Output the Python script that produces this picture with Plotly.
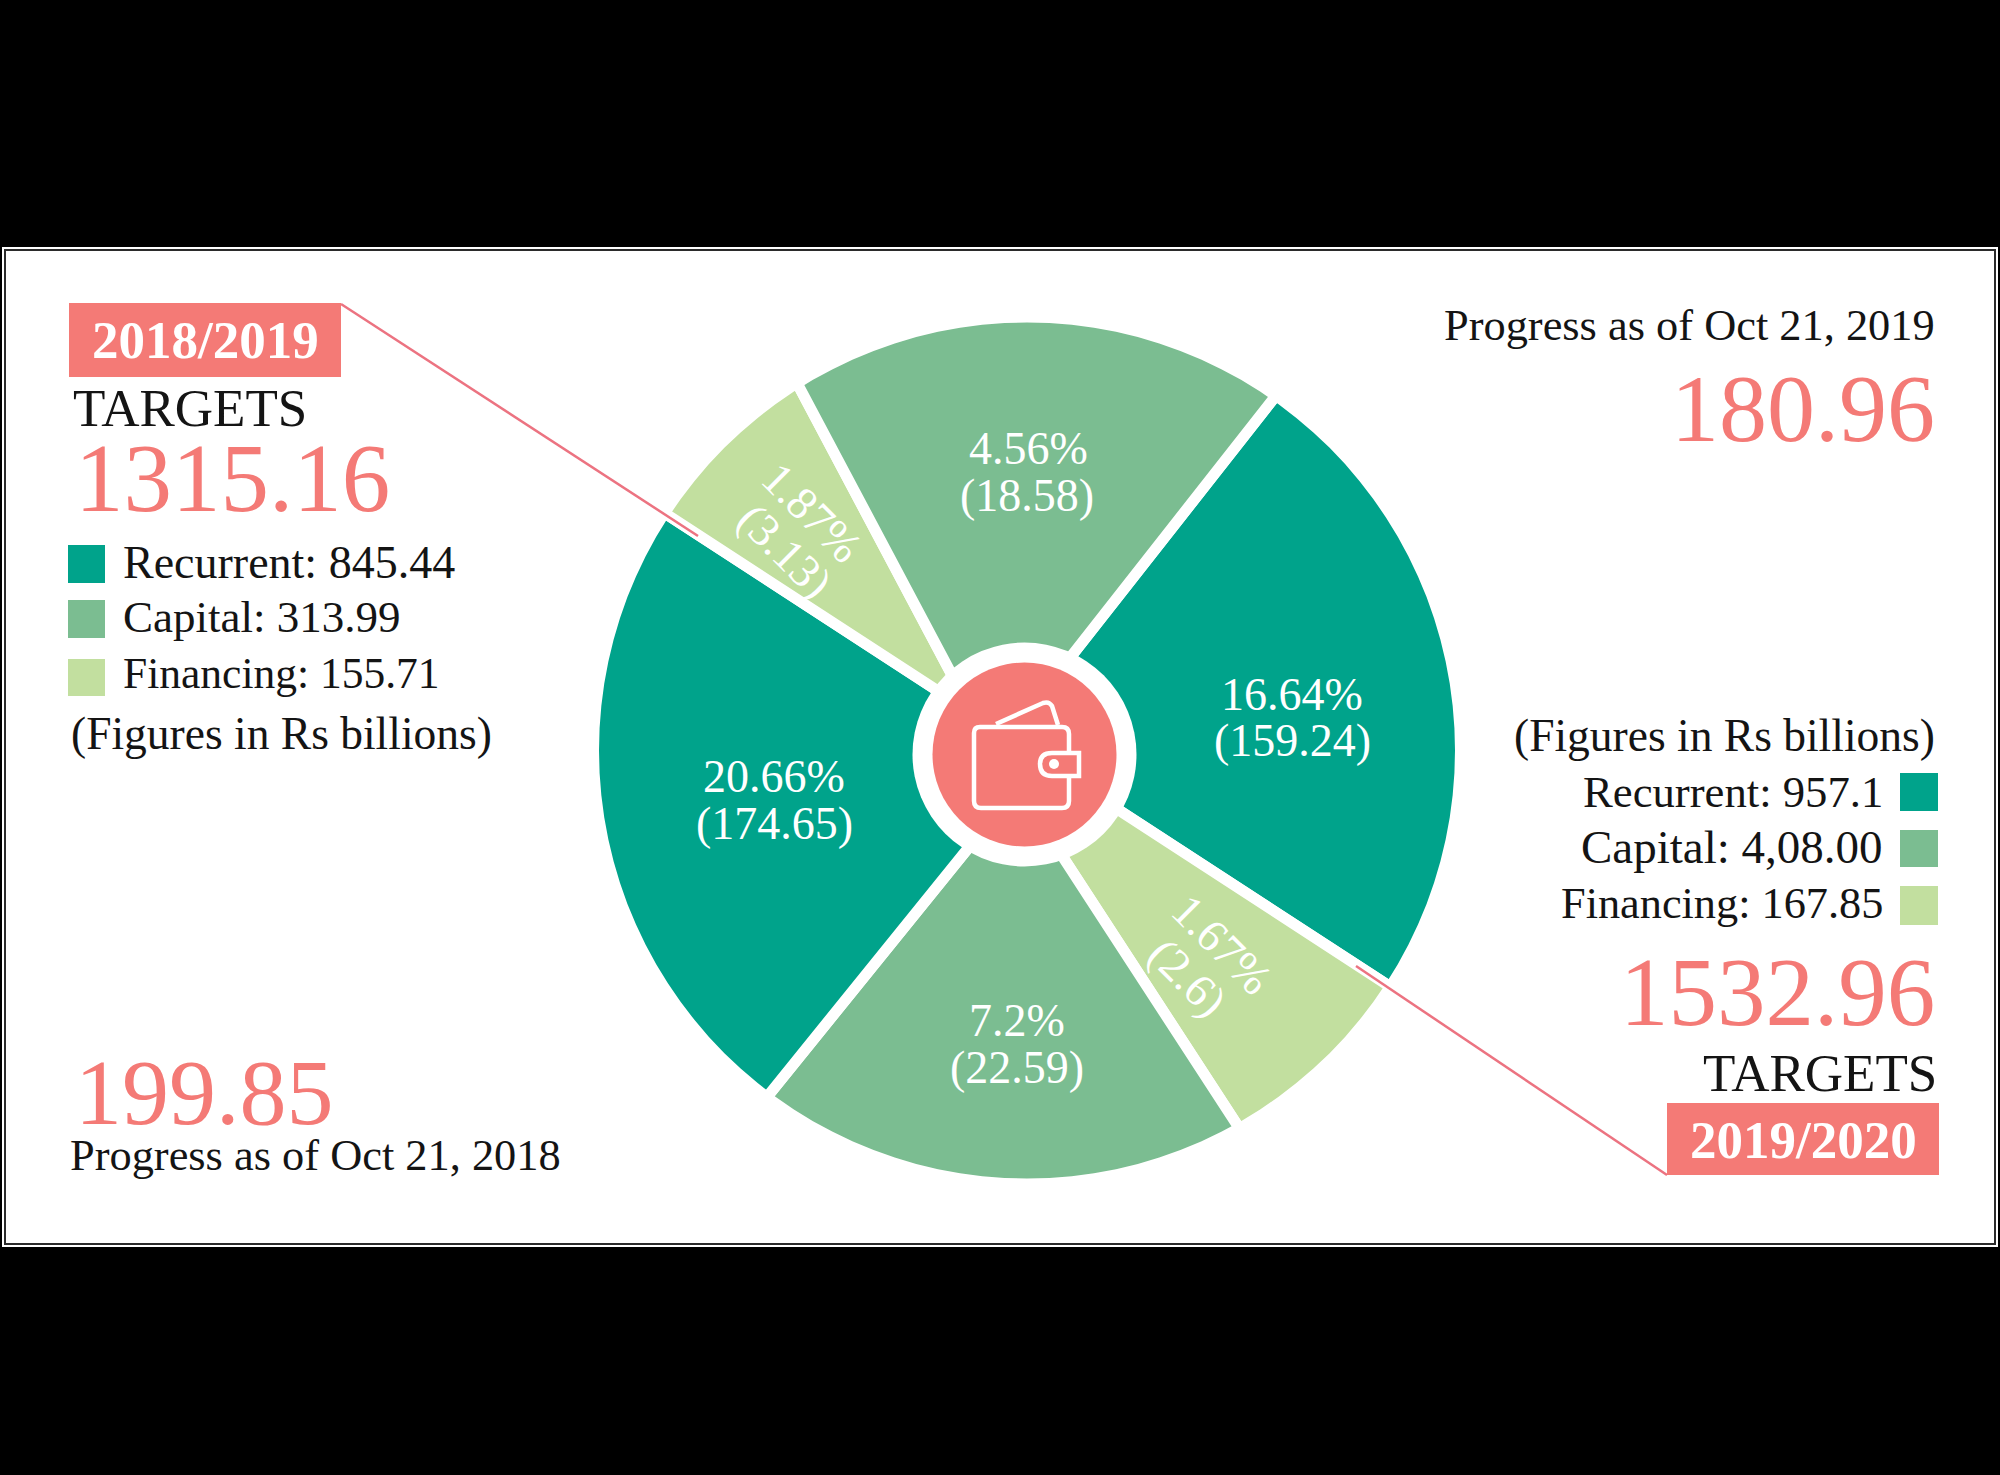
import math

import plotly.graph_objects as go

W, H = 2000, 1475
SERIF = "Liberation Serif"
TEAL = "#00a38b"
MID_GREEN = "#7bbd91"
LIGHT_GREEN = "#c2df9f"
SALMON = "#f47a76"
LEADER = "#ec7381"
INK = "#141414"

# slices clockwise from the upper right; shares are the drawn degrees, not the labels
slice_names = ["Recurrent 2019", "Financing 2019", "Capital 2018", "Recurrent 2018", "Financing 2018", "Capital 2019"]
slice_shares = [84.9, 23.9, 72.0, 84.1, 29.0, 66.1]
slice_pct = ["16.64%", "1.67%", "7.2%", "20.66%", "1.87%", "4.56%"]
slice_amounts = ["(159.24)", "(2.6)", "(22.59)", "(174.65)", "(3.13)", "(18.58)"]
slice_colors = [TEAL, LIGHT_GREEN, MID_GREEN, TEAL, LIGHT_GREEN, MID_GREEN]

legend_2018 = ["Recurrent: 845.44", "Capital: 313.99", "Financing: 155.71"]
legend_2019 = ["Recurrent: 957.1", "Capital: 4,08.00", "Financing: 167.85"]
legend_colors = [TEAL, MID_GREEN, LIGHT_GREEN]

# the wedges in the artwork do not share one apex, so each gets its own pie,
# and a white collar trims them all back to one outer circle
PIE_X, PIE_Y, PIE_R = 1027, 750.5, 428
COLLAR = 60
GAP = 11
FIRST_EDGE = 38.15
edge_points = [(1074, 652.7), (1121.7, 812), (1064.4, 859.4), (966, 850.8), (933.4, 688), (949.7, 670.7)]


def fx(px):
    return px / W


def fy(px):
    return 1 - px / H


def path(*parts):
    # parts are command letters and (x, y) pixel pairs
    out = []
    for p in parts:
        out.append(p if isinstance(p, str) else f"{fx(p[0]):.5f},{fy(p[1]):.5f}")
    return " ".join(out)


def ring_path(r):
    pts = [(PIE_X + r * math.cos(math.radians(a)), PIE_Y + r * math.sin(math.radians(a))) for a in range(0, 360, 3)]
    parts = ["M", pts[0]]
    for p in pts[1:]:
        parts += ["L", p]
    return path(*parts, "Z")


def rect(x0, y0, x1, y1, fill, line=None, width=0, layer="above"):
    return dict(type="rect", xref="paper", yref="paper", x0=fx(x0), x1=fx(x1), y0=fy(y0), y1=fy(y1),
                fillcolor=fill, line=dict(color=line, width=width), layer=layer)


def circle(cx, cy, r, fill):
    return dict(type="circle", xref="paper", yref="paper", x0=fx(cx - r), x1=fx(cx + r), y0=fy(cy - r), y1=fy(cy + r),
                fillcolor=fill, line=dict(width=0), layer="above")


def segment(x0, y0, x1, y1):
    return dict(type="line", xref="paper", yref="paper", x0=fx(x0), x1=fx(x1), y0=fy(y0), y1=fy(y1),
                line=dict(color=LEADER, width=2.5), layer="above")


def stroke(d):
    return dict(type="path", xref="paper", yref="paper", path=d, line=dict(color="white", width=4.5), layer="above")


def label(text, x, y, size, color=INK, anchor="left", angle=0, weight="normal"):
    return dict(text=text, x=fx(x), y=fy(y), xref="paper", yref="paper", xanchor=anchor, yanchor="middle",
                showarrow=False, textangle=angle, borderpad=0,
                font=dict(family=SERIF, size=size, color=color, weight=weight))


def heading(deg):
    return math.sin(math.radians(deg)), -math.cos(math.radians(deg))


def meet(p, a, q, b):
    # where the line through p at heading a crosses the line through q at heading b
    ax, ay = heading(a)
    bx, by = heading(b)
    t = ((q[0] - p[0]) * by - (q[1] - p[1]) * bx) / (ax * by - ay * bx)
    return p[0] + t * ax, p[1] + t * ay


def reach(apex, deg):
    # distance from the apex to the outer circle at this heading
    hx, hy = heading(deg)
    ox, oy = apex[0] - PIE_X, apex[1] - PIE_Y
    along = ox * hx + oy * hy
    return -along + math.sqrt(along ** 2 - (ox ** 2 + oy ** 2) + PIE_R ** 2)


fig = go.Figure()
start = FIRST_EDGE
for i, share in enumerate(slice_shares):
    end = start + share
    apex = meet(edge_points[i], start, edge_points[(i + 1) % len(slice_shares)], end)
    radius = max(reach(apex, start), reach(apex, end), reach(apex, start + share / 2)) + GAP
    fig.add_trace(go.Pie(
        labels=[slice_names[i], ""],
        values=[share, 360 - share],
        sort=False,
        direction="clockwise",
        rotation=start % 360,
        textinfo="none",
        hoverinfo="skip",
        showlegend=False,
        marker=dict(colors=[slice_colors[i], "rgba(0,0,0,0)"], line=dict(color="white", width=[GAP, 0])),
        domain=dict(x=[fx(apex[0] - radius), fx(apex[0] + radius)], y=[fy(apex[1] + radius), fy(apex[1] - radius)]),
    ))
    start = end

shapes = [
    rect(2, 247, 1998, 1247, "white", layer="below"),
    rect(5, 250, 1995, 1244, "white", "#2b2b2b", 2, layer="below"),
    dict(type="path", xref="paper", yref="paper", path=ring_path(PIE_R + COLLAR) + " " + ring_path(PIE_R),
         fillcolor="white", line=dict(width=0), layer="above"),
    segment(341, 304, 698, 536),
    segment(1356, 966, 1667, 1175),
    rect(69, 303, 341, 377, SALMON),
    rect(1667, 1103, 1939, 1175, SALMON),
    circle(1024.5, 754.5, 112, "white"),
    circle(1024.5, 754.5, 92, SALMON),
    # wallet
    stroke(path("M", (980, 727), "L", (1062, 727), "Q", (1069, 727), (1069, 734), "L", (1069, 752),
                "M", (1069, 776), "L", (1069, 801), "Q", (1069, 808), (1062, 808), "L", (981, 808),
                "Q", (974, 808), (974, 801), "L", (974, 733), "Q", (974, 727), (980, 727))),
    stroke(path("M", (996, 724), "L", (1043, 703), "Q", (1049, 701), (1052, 706), "L", (1058, 725))),
    stroke(path("M", (1079, 753), "L", (1052, 753), "Q", (1040, 753), (1040, 764), "Q", (1040, 776), (1052, 776),
                "L", (1079, 776), "Z")),
    circle(1054, 764, 5, "white"),
]
for y0, y1, color in zip([545, 600, 659], [583, 638, 696], legend_colors):
    shapes.append(rect(68, y0, 105, y1, color))
for y0, y1, color in zip([773, 830, 886], [811, 867, 925], legend_colors):
    shapes.append(rect(1900, y0, 1938, y1, color))

pct_pos = [(1292, 694), (1222, 944), (1017, 1020), (774, 776), (812, 512), (1028, 449)]
amount_pos = [(1292, 740), (1188, 977), (1017, 1067), (774, 823), (785, 550), (1027, 495)]
angles = [0, 45, 0, 0, 45, 0]

annotations = [
    label("2018/2019", 205, 340, 53, "white", "center", weight="bold"),
    label("TARGETS", 72, 408, 53),
    label("1315.16", 74, 478, 97, SALMON),
    label("(Figures in Rs billions)", 70, 734, 45.5),
    label("199.85", 74, 1092, 94, SALMON),
    label("Progress as of Oct 21, 2018", 69, 1155, 44.4),
    label("Progress as of Oct 21, 2019", 1936, 325, 44.4, anchor="right"),
    label("180.96", 1936, 408, 96, SALMON, "right"),
    label("(Figures in Rs billions)", 1936, 735, 45.5, anchor="right"),
    label("1532.96", 1936, 992, 97, SALMON, "right"),
    label("TARGETS", 1938, 1073, 53, anchor="right"),
    label("2019/2020", 1803, 1140, 53, "white", "center", weight="bold"),
]
for text, y, size in zip(legend_2018, [562, 617, 673], [46, 45, 43.5]):
    annotations.append(label(text, 122, y, size))
for text, y, size in zip(legend_2019, [792, 847, 903], [44.7, 47, 44.3]):
    annotations.append(label(text, 1884, y, size, anchor="right"))
for pct, amount, p, a, angle in zip(slice_pct, slice_amounts, pct_pos, amount_pos, angles):
    annotations.append(label(pct, p[0], p[1], 46, "white", "center", angle))
    annotations.append(label(amount, a[0], a[1], 46, "white", "center", angle))

fig.update_layout(
    width=W,
    height=H,
    margin=dict(l=0, r=0, t=0, b=0),
    paper_bgcolor="black",
    plot_bgcolor="black",
    shapes=shapes,
    annotations=annotations,
)

fig.write_html("out.html", post_script=["document.body.style.margin = '0'; document.body.style.background = 'black';"],
               config=dict(displayModeBar=False))
